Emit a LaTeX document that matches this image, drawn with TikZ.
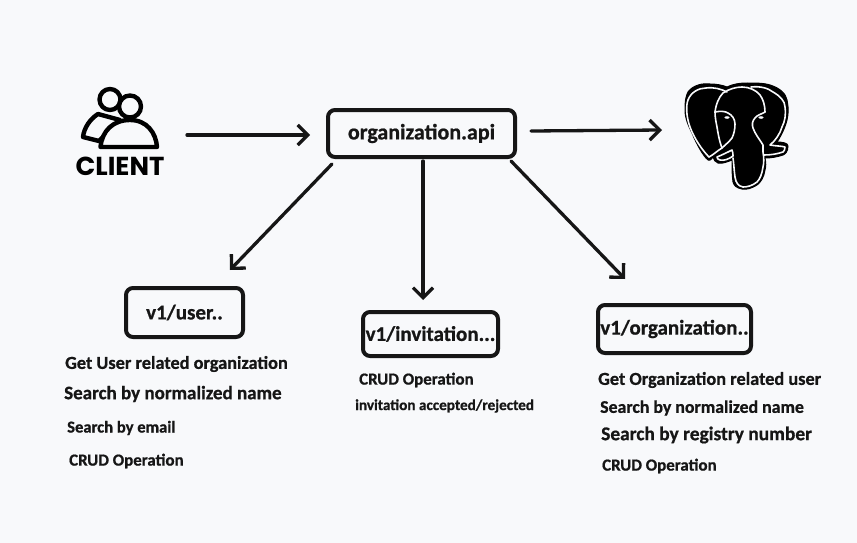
\documentclass[tikz,border=0pt]{standalone}
\usepackage{fontspec}
\setmainfont{Carlito}[BoldFeatures={FakeBold=0.8}]
\newfontfamily\logofont{Poppins}
\usetikzlibrary{arrows.meta}
\definecolor{bgc}{HTML}{F8F9FB}
\definecolor{ink}{HTML}{161616}
\newcommand{\fsz}[1]{\bfseries\fontsize{#1}{#1}\selectfont}
\tikzset{
  boxnode/.style={draw=ink,line width=4pt,rounded corners=7pt,inner sep=0pt,text=ink,font=\fsz{21}},
  conn/.style={draw=ink,line width=3.3pt,line cap=round,-{Straight Barb[length=10pt,width=20pt,line width=3.3pt]}},
  note/.style={anchor=west,inner sep=0pt,text=ink},
  iconline/.style={draw=black,line width=4.4pt,line join=round,line cap=round},
  elewhite/.style={draw=bgc,line width=1.6pt,line join=round,line cap=round},
}
\begin{document}
\begin{tikzpicture}[x=1pt,y=-1pt]
\useasboundingbox (0,0) rectangle (857,543);
\fill[bgc] (0,0) rectangle (857,543);

% client icon
\draw[iconline,fill=bgc] (110,99.5) circle (10.5);
\draw[iconline,fill=bgc] (98,114) .. controls (90,119) and (84,128) .. (83,137) -- (99,141) -- (120,120) -- cycle;
\draw[iconline,fill=bgc] (100.5,147) .. controls (102,131) and (113,120) .. (130,120) .. controls (147,120) and (156,133) .. (157,147) -- cycle;
\draw[iconline,fill=bgc] (130,106.5) circle (11);
\node[inner sep=0pt,text=black,font=\logofont\bfseries\fontsize{26}{26}\selectfont] (clientlabel) at (120,166) {CLIENT};
\coordinate (clientout) at (187,135);
\coordinate (apiin) at (310,135);

% elephant: silhouette
\coordinate (pgin) at (662,130);
\coordinate (pgout) at (531,131);
\fill[black,draw=black,line width=1pt,line join=round]
 (685,110) .. controls (685,100) and (686,96) .. (688,92)
 .. controls (693,85) and (703,83) .. (710,84)
 .. controls (716,84) and (722,85) .. (727,87)
 .. controls (733,84) and (740,83) .. (747,83)
 .. controls (755,83) and (764,83) .. (770,85)
 .. controls (780,88) and (786,94) .. (787,100)
 .. controls (789,110) and (788,115) .. (787,120)
 .. controls (785,128) and (781,136) .. (777,142)
 .. controls (782,142) and (788,143) .. (788,146)
 .. controls (788,152) and (785,154) .. (783,155)
 .. controls (777,157) and (771,158) .. (765,158)
 .. controls (766,163) and (766,166) .. (765,170)
 .. controls (764,177) and (761,182) .. (757,185)
 .. controls (752,188) and (747,190) .. (742,189)
 .. controls (737,188) and (734,186) .. (733,182)
 .. controls (732,175) and (732,168) .. (732,160)
 .. controls (727,162) and (722,164) .. (718,163)
 .. controls (715,162) and (714,160) .. (713,157)
 .. controls (711,160) and (709,161) .. (708,160)
 .. controls (703,156) and (696,143) .. (692,133)
 .. controls (688,125) and (685,118) .. (685,110) -- cycle;
% ears
\draw[elewhite]
 (709,157) .. controls (702,150) and (694,138) .. (690,127)
 .. controls (686,116) and (686,105) .. (688,100)
 .. controls (691,92) and (699,88) .. (706,88)
 .. controls (714,87) and (721,89) .. (727,92);
\draw[elewhite]
 (751,87) .. controls (760,86) and (768,88) .. (773,92)
 .. controls (780,96) and (785,101) .. (785,107)
 .. controls (786,115) and (785,121) .. (782,127)
 .. controls (780,134) and (775,141) .. (770,145)
 .. controls (775,146) and (782,146) .. (785,147)
 .. controls (785,150) and (784,151) .. (783,152)
 .. controls (777,154) and (771,155) .. (764,155);
% head, trunk and eye contours
\draw[elewhite]
 (709,157) .. controls (713,155) and (717,151) .. (722,148)
 .. controls (719,140) and (718,133) .. (717,127)
 .. controls (716,122) and (715,117) .. (715,112)
 .. controls (716,104) and (719,97) .. (723,93)
 .. controls (729,89) and (736,87) .. (742,87)
 .. controls (749,87) and (756,90) .. (760,95)
 .. controls (763,99) and (765,105) .. (765,112);
\draw[elewhite]
 (715,112) .. controls (720,111) and (725,111) .. (728,113)
 .. controls (732,115) and (735,119) .. (735,124)
 .. controls (735,129) and (734,134) .. (732,138)
 .. controls (729,142) and (725,145) .. (722,148);
\draw[elewhite]
 (765,112) .. controls (762,114) and (757,115) .. (755,118)
 .. controls (752,121) and (752,125) .. (753,128)
 .. controls (755,134) and (760,140) .. (763,145)
 .. controls (763,148) and (763,150) .. (763,152)
 .. controls (764,158) and (764,163) .. (763,167)
 .. controls (762,174) and (760,179) .. (757,182)
 .. controls (752,186) and (747,187) .. (743,187)
 .. controls (738,186) and (736,183) .. (735,177)
 .. controls (734,170) and (734,165) .. (733,158);
\draw[elewhite]
 (717,157) .. controls (722,155) and (728,152) .. (732,150)
 .. controls (733,152) and (733,154) .. (733,156)
 .. controls (729,159) and (724,161) .. (720,160)
 .. controls (718,160) and (717,158) .. (717,157) -- cycle;
\fill[bgc] (727,117.5) ellipse (2.6 and 1.3);
\fill[bgc] (761,117.5) ellipse (2.6 and 1.3);

% boxes
\node[boxnode,minimum width=187pt,minimum height=47pt,font=\fsz{22}] (api) at (421.5,133.5) {organization.api};
\node[boxnode,minimum width=117pt,minimum height=49pt] (user) at (184.5,312.5) {v1/user..};
\node[boxnode,minimum width=135pt,minimum height=44pt] (invite) at (430.5,334) {v1/invitation...};
\node[boxnode,minimum width=153pt,minimum height=48pt] (org) at (674.5,329) {v1/organization..};

% connector ends
\coordinate (apiuser) at (332,164);
\coordinate (apiinvite) at (423,161);
\coordinate (apiorg) at (511,161);
\coordinate (userin) at (230,270);
\coordinate (invitein) at (423,300);
\coordinate (orgin) at (625,279);
\draw[conn] (clientout) -- (apiin);
\draw[conn] (pgout) -- (pgin);
\draw[conn] (apiuser) -- (userin);
\draw[conn] (apiinvite) -- (invitein);
\draw[conn] (apiorg) -- (orgin);

% notes
\node[note,font=\fsz{18.3}] (u1) at (65,364) {Get User related organization};
\node[note,font=\fsz{19}] (u2) at (64,394) {Search by normalized name};
\node[note,font=\fsz{16.6}] (u3) at (67,428) {Search by email};
\node[note,font=\fsz{16.9}] (u4) at (69,461) {CRUD Operation};
\node[note,font=\fsz{16.9}] (i1) at (359,380) {CRUD Operation};
\node[note,font=\fsz{15.2}] (i2) at (355,406) {invitation accepted/rejected};
\node[note,font=\fsz{18.3}] (o1) at (598,380) {Get Organization related user};
\node[note,font=\fsz{17.8}] (o2) at (600,408) {Search by normalized name};
\node[note,font=\fsz{19.4}] (o3) at (601,435) {Search by registry number};
\node[note,font=\fsz{16.9}] (o4) at (602,466) {CRUD Operation};
\end{tikzpicture}
\end{document}
